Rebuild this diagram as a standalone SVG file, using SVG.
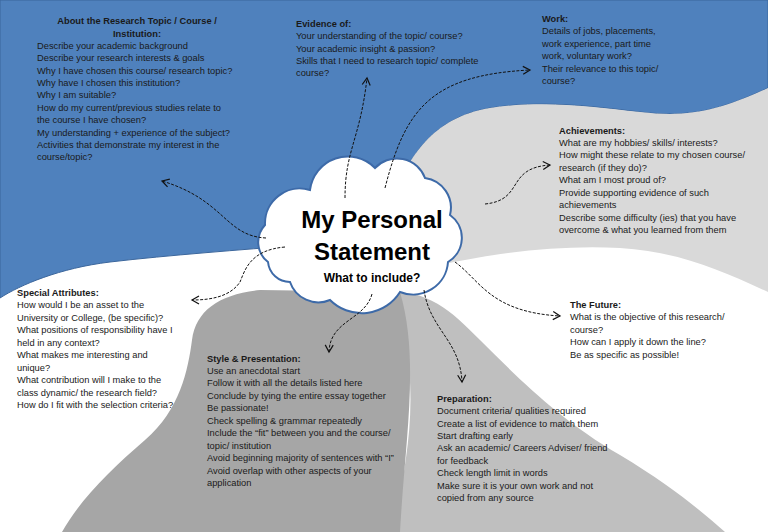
<svg xmlns="http://www.w3.org/2000/svg" width="768" height="532" viewBox="0 0 768 532">
<defs>
<marker id="ah" markerWidth="10" markerHeight="10" refX="8" refY="5" orient="auto" markerUnits="userSpaceOnUse"><path d="M1,1 L8,5 L1,9" fill="none" stroke="#111" stroke-width="1.2"/></marker>
</defs>
<style>
text{font-family:"Liberation Sans","Noto Sans",sans-serif;font-size:9.3px;fill:#1a1a1a}
.h{font-weight:bold}
.c{stroke:#111;stroke-width:1;fill:none;stroke-dasharray:3,1.5;marker-end:url(#ah)}
.t{font-weight:bold;fill:#000}
</style>
<rect width="768" height="532" fill="#ffffff"/>
<path d="M0,0 H768 V88 C720,110 690,118 640,112 C590,106 540,100 490,108 C430,118 410,160 395,190 L300,245 C240,250 170,255 110,262 C60,268 20,285 0,298 Z" fill="#4f81bd" stroke="#3b669c" stroke-width="1"/>
<path d="M768,88 C720,110 690,118 640,112 C590,106 540,100 490,108 C430,118 410,160 395,190 L440,265 C500,252 560,245 620,248 C680,252 720,270 768,292 Z" fill="#d9d9d9"/>
<path d="M380,290 C430,290 450,310 480,340 C520,380 560,420 620,455 C670,485 700,510 725,532 L395,532 C400,480 420,420 405,340 Z" fill="#bfbfbf"/>
<path d="M62,532 C80,500 110,470 145,440 C180,410 188,370 192,340 C196,310 220,294 260,290 L400,292 C420,360 405,440 400,532 Z" fill="#a6a6a6"/>
<g id="cloud">
<path d="M268,262 A25,25 0 0 1 265,225 A35,35 0 0 1 310,190 A38,38 0 0 1 375,168 A30,30 0 0 1 425,178 A30,30 0 0 1 450,215 A28,28 0 0 1 448,262 A35,35 0 0 1 400,292 A45,45 0 0 1 330,300 A30,30 0 0 1 290,282 A22,22 0 0 1 268,262 Z" fill="#fff" stroke="#3d6aa8" stroke-width="2"/>
<text class="t" x="372" y="228" text-anchor="middle" style="font-size:24px">My Personal</text>
<text class="t" x="372" y="260" text-anchor="middle" style="font-size:24px">Statement</text>
<text class="t" x="372" y="282" text-anchor="middle" style="font-size:12px">What to include?</text>
</g>
<g id="connectors">
<path class="c" d="M266,238 C225,236 225,200 162,181"/>
<path class="c" d="M345,198 C345,150 360,140 367,78"/>
<path class="c" d="M385,188 C405,110 430,75 530,70"/>
<path class="c" d="M485,204 C525,200 505,168 550,165"/>
<path class="c" d="M455,262 C480,280 490,312 560,316"/>
<path class="c" d="M424,290 C430,330 460,340 462,382"/>
<path class="c" d="M372,294 C365,320 330,320 329,352"/>
<path class="c" d="M285,247 C250,250 245,270 240,282 C230,297 210,300 192,300"/>
</g>
<g id="about">
<text class="h" x="137" y="24" text-anchor="middle">About the Research Topic / Course /</text>
<text class="h" x="137" y="37" text-anchor="middle">Institution:</text>
<text x="37" y="49">Describe your academic background</text>
<text x="37" y="61">Describe your research interests &amp; goals</text>
<text x="37" y="74">Why I have chosen this course/ research topic?</text>
<text x="37" y="86">Why have I chosen this  institution?</text>
<text x="37" y="98">Why I am suitable?</text>
<text x="37" y="111">How do my current/previous studies relate to</text>
<text x="37" y="123">the course I have chosen?</text>
<text x="37" y="136">My understanding + experience of the subject?</text>
<text x="37" y="148">Activities that demonstrate my interest in the</text>
<text x="37" y="160">course/topic?</text>
</g>
<g id="evidence">
<text class="h" x="296" y="27">Evidence of:</text>
<text x="296" y="39">Your understanding of the topic/ course?</text>
<text x="296" y="52">Your academic insight &amp; passion?</text>
<text x="296" y="64">Skills that I need to research topic/ complete</text>
<text x="296" y="76">course?</text>
</g>
<g id="work">
<text class="h" x="542" y="22">Work:</text>
<text x="542" y="34">Details of jobs, placements,</text>
<text x="542" y="47">work experience, part time</text>
<text x="542" y="59">work, voluntary work?</text>
<text x="542" y="72">Their relevance to this topic/</text>
<text x="542" y="84">course?</text>
</g>
<g id="achievements">
<text class="h" x="559" y="134">Achievements:</text>
<text x="559" y="146">What are my hobbies/ skills/ interests?</text>
<text x="559" y="158">How might these relate to my chosen course/</text>
<text x="559" y="171">research (if they do)?</text>
<text x="559" y="183">What am I most proud of?</text>
<text x="559" y="196">Provide supporting evidence of such</text>
<text x="559" y="208">achievements</text>
<text x="559" y="221">Describe some difficulty (ies) that you have</text>
<text x="559" y="233">overcome &amp; what you learned from them</text>
</g>
<g id="special">
<text class="h" x="17" y="296">Special Attributes:</text>
<text x="17" y="308">How would I be an asset to the</text>
<text x="17" y="321">University or College, (be specific)?</text>
<text x="17" y="333">What positions of responsibility have I</text>
<text x="17" y="346">held in any context?</text>
<text x="17" y="358">What makes me interesting and</text>
<text x="17" y="371">unique?</text>
<text x="17" y="383">What contribution will I make to the</text>
<text x="17" y="396">class dynamic/ the research field?</text>
<text x="17" y="408">How do I fit with the selection criteria?</text>
</g>
<g id="style">
<text class="h" x="207" y="362">Style &amp; Presentation:</text>
<text x="207" y="374">Use an anecdotal start</text>
<text x="207" y="386">Follow it with all the details listed here</text>
<text x="207" y="399">Conclude by tying the entire essay together</text>
<text x="207" y="411">Be passionate!</text>
<text x="207" y="424">Check spelling &amp; grammar repeatedly</text>
<text x="207" y="436">Include the “fit” between you and the course/</text>
<text x="207" y="449">topic/ institution</text>
<text x="207" y="461">Avoid beginning majority of sentences with “I”</text>
<text x="207" y="474">Avoid overlap with other aspects of your</text>
<text x="207" y="486">application</text>
</g>
<g id="future">
<text class="h" x="570" y="308">The Future:</text>
<text x="570" y="320">What is the objective of this research/</text>
<text x="570" y="333">course?</text>
<text x="570" y="345">How can I apply it down the line?</text>
<text x="570" y="358">Be as specific as possible!</text>
</g>
<g id="preparation">
<text class="h" x="437" y="402">Preparation:</text>
<text x="437" y="414">Document criteria/ qualities required</text>
<text x="437" y="427">Create a list of evidence to match them</text>
<text x="437" y="439">Start drafting early</text>
<text x="437" y="451">Ask an academic/ Careers Adviser/ friend</text>
<text x="437" y="464">for feedback</text>
<text x="437" y="476">Check length limit in words</text>
<text x="437" y="489">Make sure it is your own work and not</text>
<text x="437" y="501">copied from any source</text>
</g>
</svg>
